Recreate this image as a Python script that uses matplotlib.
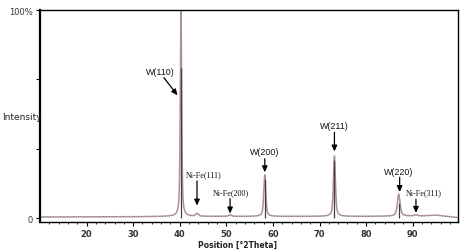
import numpy as np
import matplotlib
matplotlib.use("Agg")
import matplotlib.pyplot as plt

# Peak data (2theta in degrees, relative intensity in %)
peak_labels = ["W(110)", "Ni-Fe(111)", "Ni-Fe(200)", "W(200)", "W(211)", "W(220)", "Ni-Fe(311)"]
peak_pos = [40.26, 43.7, 50.8, 58.25, 73.2, 87.0, 90.7]
peak_height = [100.0, 1.3, 0.7, 20.0, 29.0, 10.5, 0.5]
peak_fwhm = [0.35, 0.7, 0.7, 0.5, 0.5, 0.7, 0.9]
stick_pos = [40.26, 58.25, 73.2, 87.0]
stick_height = [72.0, 19.0, 28.0, 7.0]
baseline_x = [10, 30, 38, 60, 80, 92, 95, 97, 99.7]
baseline_y = [0.5, 0.6, 0.8, 0.8, 0.8, 1.0, 1.4, 0.9, 0.2]

x_ticks = [20, 30, 40, 50, 60, 70, 80, 90]
y_ticks = [0, 100/3, 200/3, 100]
y_ticklabels = ["0", "", "", "100%"]

# label positions (text x, text y in data) and arrow start/end
label_xy = [(35.8, 70.5), (45.1, 21.0), (50.9, 12.5), (58.3, 31.8), (73.2, 44.6), (87.0, 22.6), (92.3, 12.2)]
arrow_start = [(36.6, 67.5), (43.7, 17.8), (50.8, 9.3), (58.25, 28.5), (73.2, 41.2), (87.2, 19.6), (90.7, 9.0)]
arrow_end = [(39.5, 59.0), (43.7, 6.0), (50.8, 2.2), (58.25, 22.0), (73.2, 32.0), (87.2, 12.5), (90.7, 2.5)]
label_serif = [False, True, True, False, False, False, True]

x = np.linspace(10, 99.7, 8000)
y = np.interp(x, baseline_x, baseline_y)
for c, h, w in zip(peak_pos, peak_height, peak_fwhm):
    g = 0.5 * w
    lor = 1.0 / (1.0 + ((x - c) / g) ** 2)
    gau = np.exp(-np.log(2) * ((x - c) / g) ** 2)
    y = y + h * (0.6 * lor + 0.4 * gau)

fig = plt.figure(figsize=(4.74, 2.53), dpi=100)
ax = fig.add_axes([0.0844, 0.1186, 0.8816, 0.8379])
ax.plot(x, y, color="#a8909c", lw=1.1)
ax.vlines(stick_pos, 0, stick_height, color="#4a3a48", lw=0.9)
ax.set_xlim(10, 99.7)
ax.set_ylim(-1.9, 100)

ax.set_xticks(x_ticks)
ax.set_xticks(np.arange(12, 100, 2), minor=True)
ax.set_xticklabels([str(t) for t in x_ticks], fontsize=6, fontweight="bold", color="#333333")
ax.set_yticks(y_ticks)
ax.set_yticklabels(y_ticklabels, fontsize=6, color="#333333")
ax.tick_params(axis="x", which="major", length=3, width=0.8, pad=2)
ax.tick_params(axis="x", which="minor", length=1.5, width=0.6)
ax.tick_params(axis="y", length=3, width=0.8, pad=2)

for s in ["top", "right", "bottom"]:
    ax.spines[s].set_linewidth(1.0)
ax.spines["left"].set_linewidth(1.6)

fig.text(0.005, 0.535, "Intensity", fontsize=6.5, color="#222222", ha="left", va="center")
fig.text(0.5, 0.03, "Position [°2Theta]", fontsize=5.5, fontweight="bold", color="#222222", ha="center", va="center")

for lab, (tx, ty), st, en, serif in zip(peak_labels, label_xy, arrow_start, arrow_end, label_serif):
    fam = "Liberation Serif" if serif else "Liberation Sans"
    fs = 5.9 if serif else 6.4
    ax.text(tx, ty, lab, fontsize=fs, family=fam, ha="center", va="center", color="#111111")
    ax.annotate("", xy=en, xytext=st,
                arrowprops=dict(arrowstyle="-|>,head_width=0.16,head_length=0.35", color="black", lw=0.9,
                                shrinkA=0, shrinkB=0))

fig.savefig("out.png", dpi=100)
